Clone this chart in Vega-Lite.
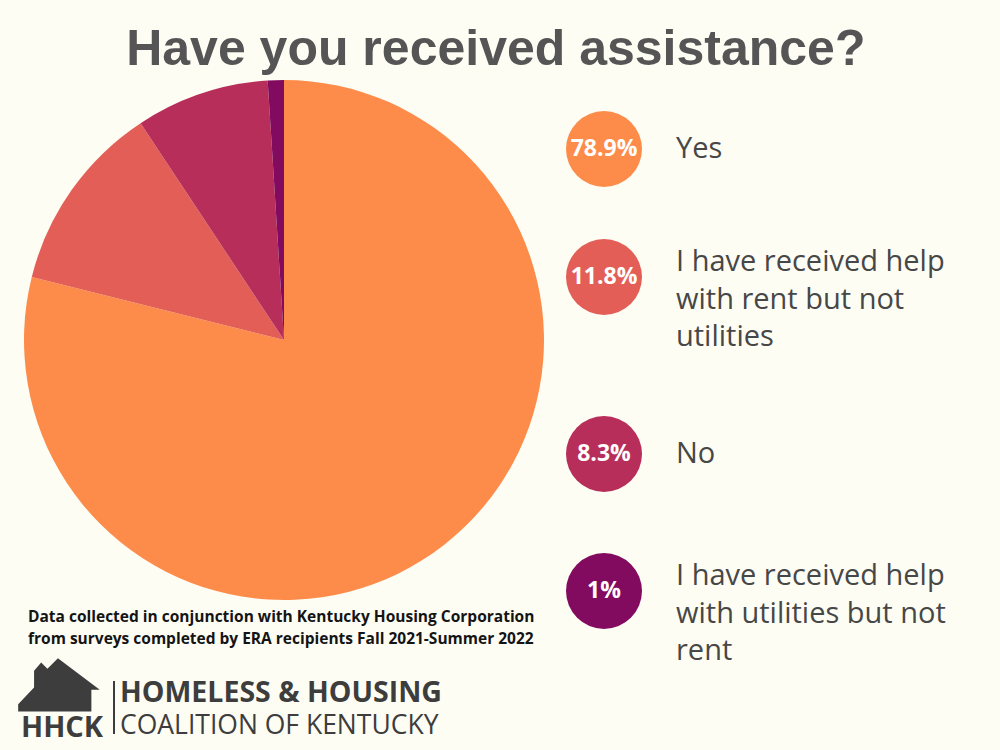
{
  "$schema": "https://vega.github.io/schema/vega-lite/v6.json",
  "background": "#fdfdf4",
  "padding": {"left": 18, "top": 25, "right": 55, "bottom": 12},
  "config": {"view": {"stroke": null}},
  "datasets": {
    "answers": [
      {"answer": "Yes", "share": 78.9, "share_label": "78.9%", "rank": 1, "label": "Yes"},
      {"answer": "I have received help with rent but not utilities", "share": 11.8, "share_label": "11.8%", "rank": 2, "label": "I have received help\nwith rent but not\nutilities"},
      {"answer": "No", "share": 8.3, "share_label": "8.3%", "rank": 3, "label": "No"},
      {"answer": "I have received help with utilities but not rent", "share": 1, "share_label": "1%", "rank": 4, "label": "I have received help\nwith utilities but not\nrent"}
    ],
    "logo": [{"mark": "HHCK"}]
  },
  "title": {
    "text": "Have you received assistance?",
    "fontSize": 50,
    "font": "Liberation Sans",
    "fontWeight": "bold",
    "color": "#555555",
    "anchor": "start",
    "dx": 108,
    "offset": 5
  },
  "spacing": 22,
  "hconcat": [
    {
      "spacing": 10,
      "vconcat": [
        {
          "width": 520,
          "height": 520,
          "title": {
            "text": ["Data collected in conjunction with Kentucky Housing Corporation", "from surveys completed by ERA recipients Fall 2021-Summer 2022"],
            "orient": "bottom",
            "anchor": "start",
            "fontSize": 15.5,
            "font": "Open Sans",
            "fontWeight": "bold",
            "color": "#141414",
            "lineHeight": 22,
            "offset": 10,
            "dx": 4
          },
          "data": {"name": "answers"},
          "mark": {"type": "arc", "outerRadius": 260},
          "encoding": {
            "theta": {"field": "share", "type": "quantitative", "stack": true},
            "order": {"field": "rank", "type": "quantitative", "sort": "ascending"},
            "color": {
              "field": "answer",
              "type": "nominal",
              "scale": {
                "domain": ["Yes", "I have received help with rent but not utilities", "No", "I have received help with utilities but not rent"],
                "range": ["#fd8c4b", "#e35e57", "#b82e5b", "#820b5f"]
              },
              "legend": null
            }
          }
        },
        {
          "spacing": 5,
          "hconcat": [
            {
              "width": 84,
              "height": 55,
              "data": {"name": "logo"},
              "layer": [
                {
                  "mark": {
                    "type": "point",
                    "filled": true,
                    "opacity": 1,
                    "color": "#3d3d3d",
                    "size": 7000,
                    "yOffset": -23,
                    "xOffset": -6,
                    "shape": "M-1,0.45L-0.62,0.05L-0.62,-0.35L-0.45,-0.55L-0.3,-0.4L-0.05,-0.65L0.95,0.1L0.75,0.1L0.75,0.62L-1,0.62Z"
                  },
                  "encoding": {}
                },
                {
                  "mark": {
                    "type": "text",
                    "font": "Open Sans",
                    "fontWeight": "bold",
                    "fontSize": 29,
                    "color": "#3d3d3d",
                    "baseline": "alphabetic",
                    "dx": -4,
                    "dy": 28
                  },
                  "encoding": {"text": {"field": "mark"}}
                }
              ]
            },
            {
              "width": 2,
              "height": 53,
              "view": {"fill": "#3d3d3d", "stroke": null},
              "data": {"name": "logo"},
              "mark": {"type": "text", "text": ""},
              "encoding": {}
            },
            {
              "width": 330,
              "height": 1,
              "title": {
                "text": "HOMELESS & HOUSING",
                "subtitle": "COALITION OF KENTUCKY",
                "orient": "bottom",
                "anchor": "start",
                "font": "Open Sans",
                "fontSize": 28.5,
                "fontWeight": "bold",
                "color": "#3d3d3d",
                "subtitleFont": "Open Sans",
                "subtitleFontSize": 26.5,
                "subtitleFontWeight": "normal",
                "subtitleColor": "#3d3d3d",
                "subtitlePadding": 6,
                "offset": -8
              },
              "data": {"name": "logo"},
              "mark": {"type": "text", "text": ""},
              "encoding": {}
            }
          ]
        }
      ]
    },
    {
      "width": 76,
      "height": 590,
      "data": {"name": "answers"},
      "encoding": {
        "y": {"field": "rank", "type": "quantitative", "scale": {"domain": [1, 2, 3, 4], "range": [69, 197, 374, 511]}, "axis": null}
      },
      "layer": [
        {
          "mark": {"type": "point", "filled": true, "opacity": 1, "shape": "circle", "size": 5776},
          "encoding": {
            "color": {"field": "answer", "type": "nominal", "legend": null}
          }
        },
        {
          "mark": {"type": "text", "font": "Open Sans", "fontWeight": "bold", "fontSize": 23, "color": "#ffffff"},
          "encoding": {"text": {"field": "share_label"}}
        },
        {
          "transform": [{"filter": "indexof(datum.label, '\\n') < 0"}],
          "mark": {"type": "text", "align": "left", "dx": 72, "font": "Open Sans", "fontSize": 29, "color": "#474747"},
          "encoding": {"text": {"field": "label"}}
        },
        {
          "transform": [{"filter": "indexof(datum.label, '\\n') >= 0"}],
          "mark": {"type": "text", "align": "left", "dx": 72, "dy": -15, "font": "Open Sans", "fontSize": 29, "color": "#474747", "lineBreak": "\n", "lineHeight": 37.5},
          "encoding": {"text": {"field": "label"}}
        }
      ]
    }
  ]
}
